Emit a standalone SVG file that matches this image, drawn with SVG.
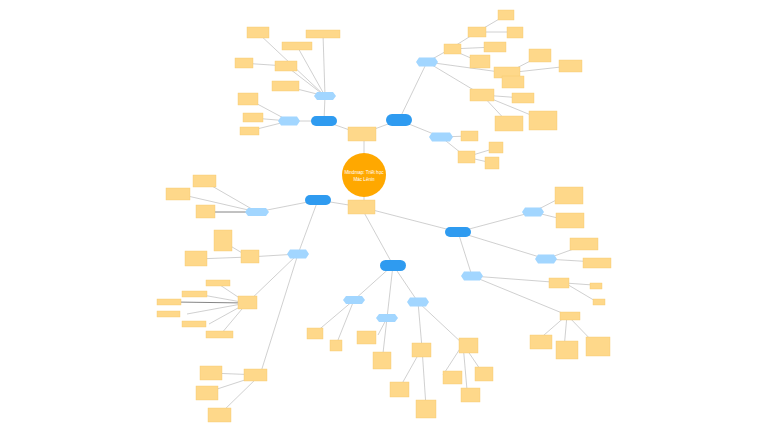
<svg xmlns="http://www.w3.org/2000/svg" width="768" height="431" viewBox="0 0 768 431">
<style>
.e{stroke:#c4c4c4;stroke-width:0.8;fill:none}
.y{fill:#fed88a;stroke:#f5c86a;stroke-width:0.4}
.b{fill:#2f9bf0}
.l{fill:#a2d6ff}
.t{font-family:"Liberation Sans",sans-serif;font-size:4.6px;fill:#fff;text-anchor:middle}
</style>
<rect width="768" height="431" fill="#fff"/>
<g id="connectors">
<path class="e" d="M364,153V141M364,197V214M361,134L324,121M361,134L399,120M361,207L318,200M361,207L458,232M361,207L393,265
M324,121L325,96M324,121L289,121M325,96L258,33M325,96L323,34M325,96L297,46M325,96L286,66M286,66L241,63M325,96L285,86M289,121L248,99M289,121L253,118M289,121L249,131
M399,120L427,62M399,120L441,137M427,62L450,49M450,49L477,32M477,32L506,15M477,32L515,32M450,49L495,47M450,49L480,62M427,62L507,73M507,73L540,56M507,73L570,66M507,73L513,82M427,62L482,95M482,95L523,98M482,95L509,124M482,95L543,120
M441,137L469,136M441,137L466,157M466,157L496,148M466,157L492,163
M318,200L257,212M257,212L205,182M257,212L179,194M318,200L298,254M298,254L249,257M249,257L222,241M249,257L196,259M298,254L247,303M247,303L217,283M247,303L197,294M247,303L187,314M247,303L209,324M247,303L221,334M298,254L260,375M260,375L210,373M260,375L205,393M260,375L220,414
M458,232L533,212M533,212L566,195M533,212L566,220M458,232L546,259M546,259L590,243M546,259L596,262M458,232L472,276M472,276L565,283M565,283L593,285M565,283L597,302M472,276L567,315M567,315L536,342M567,315L564,349M567,315L596,345
M393,265L354,300M354,300L315,333M354,300L336,345M393,265L387,318M387,318L378,335M387,318L382,362M393,265L418,302M418,302L422,348M422,348L399,389M422,348L426,407M418,302L463,344M463,344L443,375M463,344L467,390M463,344L482,372"/>
<path d="M257,212L207,212M247,303L174,302" stroke="#777" stroke-width="0.9"/>
</g>
<g id="center"><circle cx="364" cy="175" r="22" fill="#ffa800"/><text class="t" x="364" y="174" font-size="5">Mindmap: Triết học</text><text class="t" x="364" y="180.5" font-size="5">Mác Lênin</text></g>
<g id="n-top"><rect class="y" x="348" y="127" width="28" height="14"/></g>
<g id="n-bot"><rect class="y" x="348" y="200" width="27" height="14"/></g>
<g id="A"><rect class="b" x="311" y="116" width="26" height="10" rx="5"/></g>
<g id="B"><rect class="b" x="386" y="114" width="26" height="12" rx="6"/></g>
<g id="C"><rect class="b" x="305" y="195" width="26" height="10" rx="5"/></g>
<g id="D"><rect class="b" x="445" y="227" width="26" height="10" rx="5"/></g>
<g id="E"><rect class="b" x="380" y="260" width="26" height="11" rx="5.5"/></g>
<g id="light">
<path id="A1" class="l" d="M314,96l3,-4h16l3,4l-3,4h-16z"/>
<path id="A2" class="l" d="M278,121l3,-4.5h16l3,4.5l-3,4.5h-16z"/>
<path id="B1" class="l" d="M416,62l3,-4.5h16l3,4.5l-3,4.5h-16z"/>
<path id="B2" class="l" d="M429,137l3,-4.5h18l3,4.5l-3,4.5h-18z"/>
<path id="C1" class="l" d="M245,212l3,-4h18l3,4l-3,4h-18z"/>
<path id="C2" class="l" d="M287,254l3,-4.5h16l3,4.5l-3,4.5h-16z"/>
<path id="D1" class="l" d="M522,212l3,-4.5h16l3,4.5l-3,4.5h-16z"/>
<path id="D2" class="l" d="M535,259l3,-4.5h16l3,4.5l-3,4.5h-16z"/>
<path id="D3" class="l" d="M461,276l3,-4.5h16l3,4.5l-3,4.5h-16z"/>
<path id="E1" class="l" d="M343,300l3,-4h16l3,4l-3,4h-16z"/>
<path id="E2" class="l" d="M376,318l3,-4h16l3,4l-3,4h-16z"/>
<path id="E3" class="l" d="M407,302l3,-4.5h16l3,4.5l-3,4.5h-16z"/>
</g>
<g id="leaves">
<rect class="y" x="247" y="27" width="22" height="11"/>
<rect class="y" x="306" y="30" width="34" height="8"/>
<rect class="y" x="282" y="42" width="30" height="8"/>
<rect class="y" x="235" y="58" width="18" height="10"/>
<rect class="y" x="275" y="61" width="22" height="10"/>
<rect class="y" x="272" y="81" width="27" height="10"/>
<rect class="y" x="238" y="93" width="20" height="12"/>
<rect class="y" x="243" y="113" width="20" height="9"/>
<rect class="y" x="240" y="127" width="19" height="8"/>
<rect class="y" x="444" y="44" width="17" height="10"/>
<rect class="y" x="468" y="27" width="18" height="10"/>
<rect class="y" x="498" y="10" width="16" height="10"/>
<rect class="y" x="507" y="27" width="16" height="11"/>
<rect class="y" x="484" y="42" width="22" height="10"/>
<rect class="y" x="470" y="55" width="20" height="13"/>
<rect class="y" x="494" y="67" width="26" height="11"/>
<rect class="y" x="529" y="49" width="22" height="13"/>
<rect class="y" x="559" y="60" width="23" height="12"/>
<rect class="y" x="502" y="76" width="22" height="12"/>
<rect class="y" x="470" y="89" width="24" height="12"/>
<rect class="y" x="512" y="93" width="22" height="10"/>
<rect class="y" x="495" y="116" width="28" height="15"/>
<rect class="y" x="529" y="111" width="28" height="19"/>
<rect class="y" x="461" y="131" width="17" height="10"/>
<rect class="y" x="458" y="151" width="17" height="12"/>
<rect class="y" x="489" y="142" width="14" height="11"/>
<rect class="y" x="485" y="157" width="14" height="12"/>
<rect class="y" x="193" y="175" width="23" height="12"/>
<rect class="y" x="166" y="188" width="24" height="12"/>
<rect class="y" x="196" y="205" width="19" height="13"/>
<rect class="y" x="214" y="230" width="18" height="21"/>
<rect class="y" x="185" y="251" width="22" height="15"/>
<rect class="y" x="241" y="250" width="18" height="13"/>
<rect class="y" x="238" y="296" width="19" height="13"/>
<rect class="y" x="206" y="280" width="24" height="6"/>
<rect class="y" x="182" y="291" width="25" height="6"/>
<rect class="y" x="157" y="299" width="24" height="6"/>
<rect class="y" x="157" y="311" width="23" height="6"/>
<rect class="y" x="182" y="321" width="24" height="6"/>
<rect class="y" x="206" y="331" width="27" height="7"/>
<rect class="y" x="244" y="369" width="23" height="12"/>
<rect class="y" x="200" y="366" width="22" height="14"/>
<rect class="y" x="196" y="386" width="22" height="14"/>
<rect class="y" x="208" y="408" width="23" height="14"/>
<rect class="y" x="555" y="187" width="28" height="17"/>
<rect class="y" x="556" y="213" width="28" height="15"/>
<rect class="y" x="570" y="238" width="28" height="12"/>
<rect class="y" x="583" y="258" width="28" height="10"/>
<rect class="y" x="549" y="278" width="20" height="10"/>
<rect class="y" x="590" y="283" width="12" height="6"/>
<rect class="y" x="593" y="299" width="12" height="6"/>
<rect class="y" x="560" y="312" width="20" height="8"/>
<rect class="y" x="530" y="335" width="22" height="14"/>
<rect class="y" x="556" y="341" width="22" height="18"/>
<rect class="y" x="586" y="337" width="24" height="19"/>
<rect class="y" x="307" y="328" width="16" height="11"/>
<rect class="y" x="330" y="340" width="12" height="11"/>
<rect class="y" x="357" y="331" width="19" height="13"/>
<rect class="y" x="373" y="352" width="18" height="17"/>
<rect class="y" x="412" y="343" width="19" height="14"/>
<rect class="y" x="390" y="382" width="19" height="15"/>
<rect class="y" x="416" y="400" width="20" height="18"/>
<rect class="y" x="459" y="338" width="19" height="15"/>
<rect class="y" x="443" y="371" width="19" height="13"/>
<rect class="y" x="461" y="388" width="19" height="14"/>
<rect class="y" x="475" y="367" width="18" height="14"/>
</g>
</svg>
